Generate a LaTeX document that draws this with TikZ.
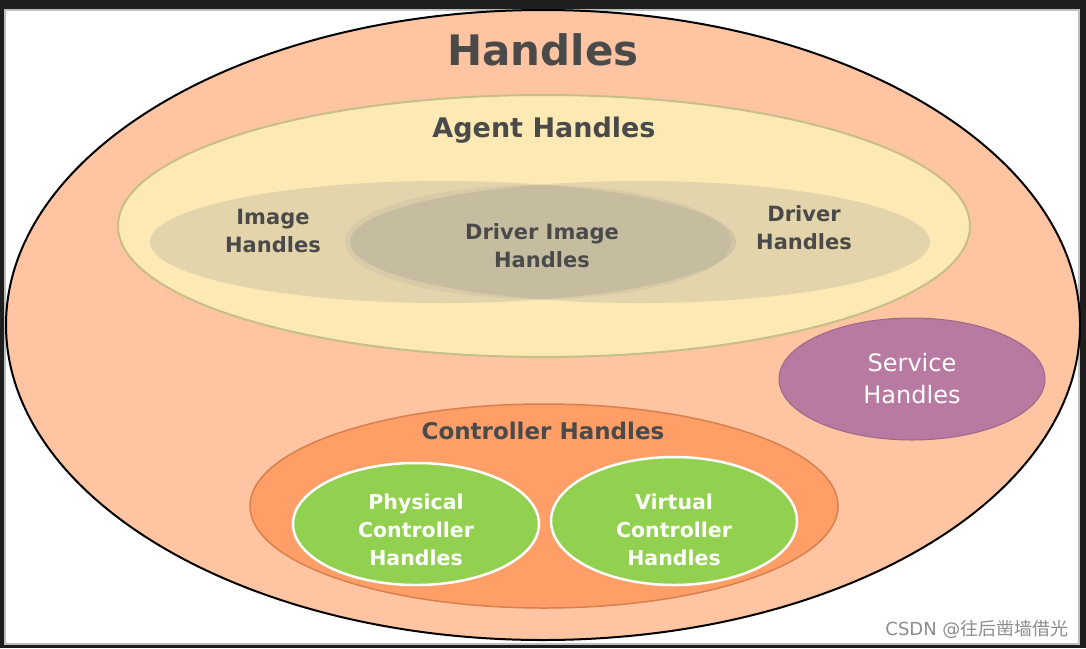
\documentclass[tikz,border=0pt]{standalone}
\usepackage{fontspec}
\setmainfont{DejaVu Sans}
\newfontfamily\cjk{Noto Sans CJK SC}
\usetikzlibrary{shapes.geometric}
\definecolor{txt}{HTML}{4A4A4A}
\definecolor{outerc}{HTML}{FFC4A2}
\definecolor{agentc}{HTML}{FCE9B4}
\definecolor{agentb}{HTML}{C8BE88}
\definecolor{ctrlc}{HTML}{FF9E66}
\definecolor{ctrlb}{HTML}{D8804E}
\definecolor{greenc}{HTML}{92D050}
\definecolor{servc}{HTML}{B87AA0}
\definecolor{grayc}{HTML}{8C8C8C}
\tikzset{
 lab/.style={text=txt, font=\bfseries, align=center},
}
\begin{document}
\begin{tikzpicture}[x=1pt,y=-1pt]
\fill[black!88] (0,0) rectangle (1086,648);
\fill[white, draw=black!25, line width=1.5pt] (5,10) rectangle (1079,644);
\useasboundingbox (0,0) rectangle (1086,648);
% outer
\draw[fill=outerc, line width=2pt] (543,325) ellipse [x radius=537, y radius=315];
\node[lab, font=\bfseries\fontsize{42}{46}\selectfont] (handles) at (543,50) {Handles};
% agent
\draw[fill=agentc, draw=agentb, line width=2pt] (544,226) ellipse [x radius=426, y radius=131];
\node[lab, font=\bfseries\fontsize{27}{30}\selectfont] (agent) at (544,130) {Agent Handles};
\fill[grayc, opacity=0.22] (443,242) ellipse [x radius=293, y radius=61];
\fill[grayc, opacity=0.22] (640,242) ellipse [x radius=290, y radius=61];
\fill[grayc, opacity=0.12] (538,242) ellipse [x radius=193, y radius=57];
\node[lab, font=\bfseries\fontsize{21}{28}\selectfont] (img) at (273,231) {Image\\Handles};
\node[lab, font=\bfseries\fontsize{21}{28}\selectfont] (drv) at (804,228) {Driver\\Handles};
\node[lab, font=\bfseries\fontsize{21}{28}\selectfont] (dimg) at (542,246) {Driver Image\\Handles};
% service
\draw[fill=servc, draw=servc!85!black, line width=1pt] (912,379) ellipse [x radius=133, y radius=61];
\node[align=center, text=white, font=\fontsize{24}{32}\selectfont] (serv) at (912,379) {Service\\Handles};
% controller
\draw[fill=ctrlc, draw=ctrlb, line width=1.5pt] (544,506) ellipse [x radius=294, y radius=102];
\node[lab, font=\bfseries\fontsize{23}{26}\selectfont] (ctrl) at (543,431) {Controller Handles};
\draw[fill=greenc, draw=white, line width=2.5pt] (416,524) ellipse [x radius=123, y radius=61];
\draw[fill=greenc, draw=white, line width=2.5pt] (674,521) ellipse [x radius=123, y radius=64];
\node[align=center, text=white, font=\bfseries\fontsize{20.5}{28}\selectfont] (phys) at (416,530) {Physical\\Controller\\Handles};
\node[align=center, text=white, font=\bfseries\fontsize{20.5}{28}\selectfont] (virt) at (674,530) {Virtual\\Controller\\Handles};
\node[anchor=east, text=black!45, font=\fontsize{18}{20}\selectfont] (wm) at (1072,629) {CSDN @{\cjk 往后凿墙借光}};
\end{tikzpicture}
\end{document}
